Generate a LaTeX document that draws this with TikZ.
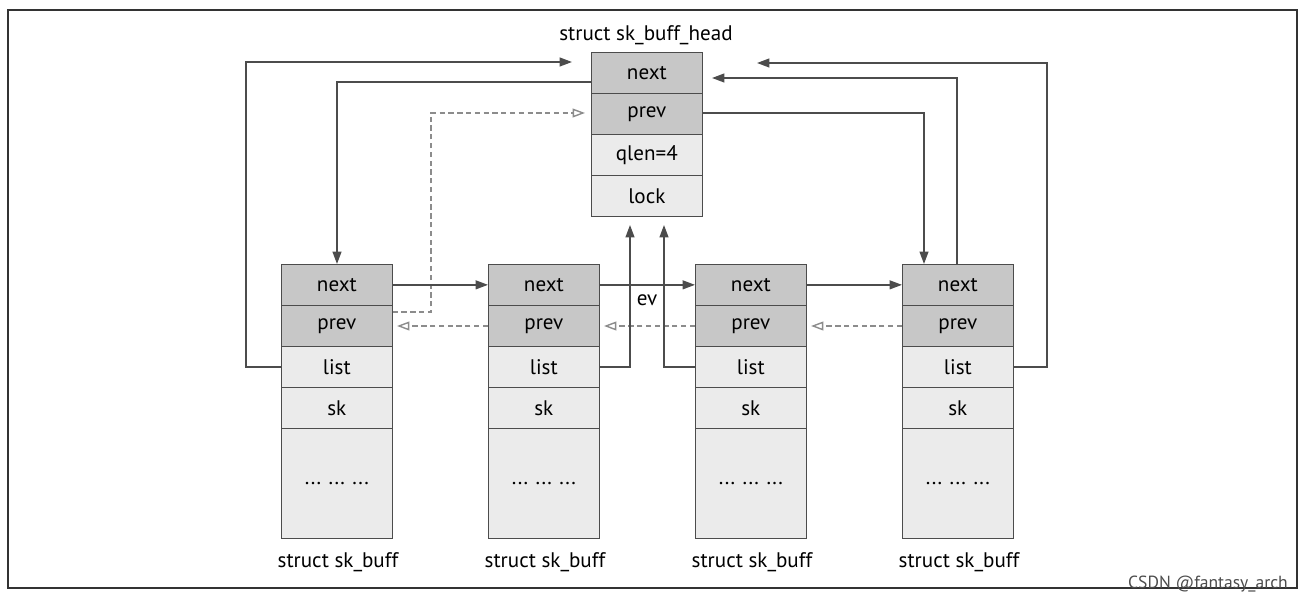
\documentclass[tikz,border=0pt]{standalone}
\usepackage{fontspec}
\setmainfont{PT Sans}
\usetikzlibrary{arrows.meta}
\begin{document}
\begin{tikzpicture}[x=0.02cm,y=-0.02cm,
  dark/.style={draw=black!70,fill=black!22,minimum width=111*0.02cm,minimum height=41*0.02cm,anchor=north west,inner sep=0pt,font=\fontsize{12}{14}\selectfont},
  light/.style={dark,fill=black!8},
  big/.style={light,minimum height=110*0.02cm},
  lbl/.style={font=\fontsize{12}{14}\selectfont},
  ln/.style={draw=black!70,line width=0.9pt,-{Triangle[length=7pt,width=5pt]}},
  dl/.style={draw=black!45,line width=0.8pt,densely dashed,-{Triangle[length=7pt,width=5pt,open]}}]
\useasboundingbox (0,0) rectangle (1306,604);
\draw[black!80,line width=1pt] (8,10) rectangle (1297,588);
% head
\node[dark] (hn) at (591,52) {next};
\node[dark] (hp) at (591,93) {prev};
\node[light] (hq) at (591,134) {qlen=4};
\node[light] (hl) at (591,175) {lock};
\node[lbl] (ht) at (646,35) {struct sk\_buff\_head};
\coordinate (hb) at (646,225);
% sk_buffs
\foreach \i/\x in {1/281,2/488,3/695,4/902}{
  \node[dark] (n\i) at (\x,264) {next};
  \node[dark] (p\i) at (\x,305) {prev};
  \node[light] (l\i) at (\x,346) {list};
  \node[light] (s\i) at (\x,387) {sk};
  \node[big] (d\i) at (\x,428) {\raisebox{0pt}{... ... ...}};
  \node[lbl] (t\i) at (\x+57,562) {struct sk\_buff};
}
% connectors
\draw[ln] (l1.west) -| (246,62) -- (572,62);
\draw[ln] (hn.west |- 0,82) -| (337,264);
\draw[dl] (p1.east |- 0,312) -| (431,113) -- (585,113);
\draw[ln] (n1.east) -- (n2.west);
\draw[ln] (n2.east) -- (n3.west);
\draw[ln] (n3.east) -- (n4.west);
\draw[dl] (p2.west |- 0,326) -- (397,326);
\draw[dl] (p3.west |- 0,326) -- (604,326);
\draw[dl] (p4.west |- 0,326) -- (811,326);
\node[lbl] (ev) at (647,300) {ev};
\draw[ln] (l2.east) -| (630,225);
\draw[ln] (l3.west) -| (664,225);
\draw[ln] (hp.east |- 0,113) -| (924,264);
\draw[ln] (957,264) |- (712,78);
\draw[ln] (l4.east) -| (1047,63) -- (757,63);
\node[font=\fontsize{10}{12}\selectfont,black!70] (wm) at (1208,584) {CSDN @fantasy\_arch};
\end{tikzpicture}
\end{document}
